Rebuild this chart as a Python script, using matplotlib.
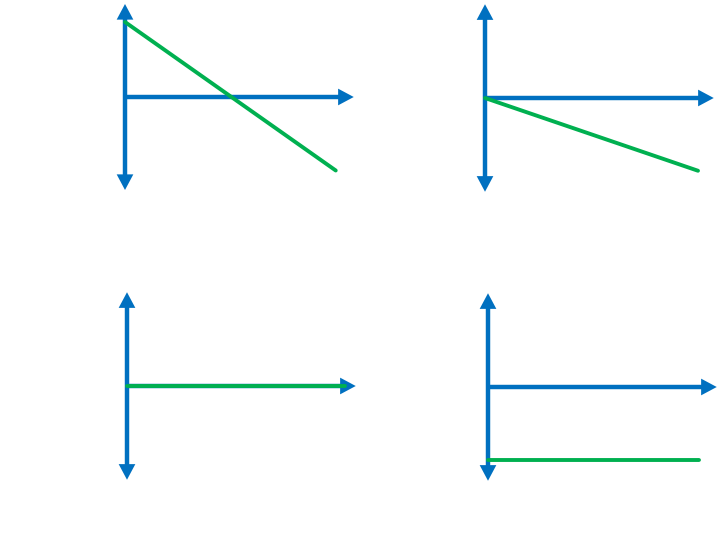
import matplotlib
matplotlib.use("Agg")
import matplotlib.pyplot as plt

# Data: green line endpoints in each panel (origin at axis intersection)
panels = ["top-left", "top-right", "bottom-left", "bottom-right"]
line_x_start = [0.0, 0.0, 0.0, 0.0]
line_x_end = [2.81, 2.84, 2.90, 2.81]
line_y_start = [1.0, 0.0, 0.0, -0.97]
line_y_end = [-0.98, -0.97, 0.0, -0.97]
x_axis_len = [3.05, 3.05, 3.05, 3.05]
y_axis_half = [1.24, 1.25, 1.25, 1.25]

BLUE = "#0070C0"
GREEN = "#00B050"

W, H = 720, 540
fig = plt.figure(figsize=(7.2, 5.4), dpi=100)

unit = 75.0  # pixels per data unit
xlim = (-0.1, 3.1)
ylim = (-1.28, 1.28)
origins = [(125, 97), (485, 98), (127, 386), (488, 387)]  # pixel positions of origins
head = "-|>,head_length=0.9,head_width=0.48"
hl = 0.1  # shaft shortening in data units (inside the head)


def arrow_head(ax, tip, tail):
    ax.annotate("", xy=tip, xytext=tail,
                arrowprops=dict(arrowstyle=head, color=BLUE, lw=0,
                                shrinkA=0, shrinkB=0, mutation_scale=12.5),
                annotation_clip=False, zorder=2)


for i, (ox, oy) in enumerate(origins):
    left = ox + xlim[0] * unit
    top = oy - ylim[1] * unit
    w = (xlim[1] - xlim[0]) * unit
    h = (ylim[1] - ylim[0]) * unit
    ax = fig.add_axes([left / W, (H - top - h) / H, w / W, h / H])
    ax.set_xlim(*xlim)
    ax.set_ylim(*ylim)
    ax.axis("off")
    xa = x_axis_len[i]
    ya = y_axis_half[i]
    # shafts
    ax.plot([0, xa - hl], [0, 0], color=BLUE, lw=3.2, solid_capstyle="butt",
            zorder=2, clip_on=False)
    ax.plot([0, 0], [-ya + hl, ya - hl], color=BLUE, lw=3.2, solid_capstyle="butt",
            zorder=2, clip_on=False)
    # heads
    arrow_head(ax, (xa, 0), (xa - 0.3, 0))
    arrow_head(ax, (0, ya), (0, ya - 0.3))
    arrow_head(ax, (0, -ya), (0, -ya + 0.3))
    # green line
    ax.plot([line_x_start[i], line_x_end[i]], [line_y_start[i], line_y_end[i]],
            color=GREEN, lw=2.8, solid_capstyle="round", zorder=3, clip_on=False)

fig.savefig("out.png", dpi=100)
